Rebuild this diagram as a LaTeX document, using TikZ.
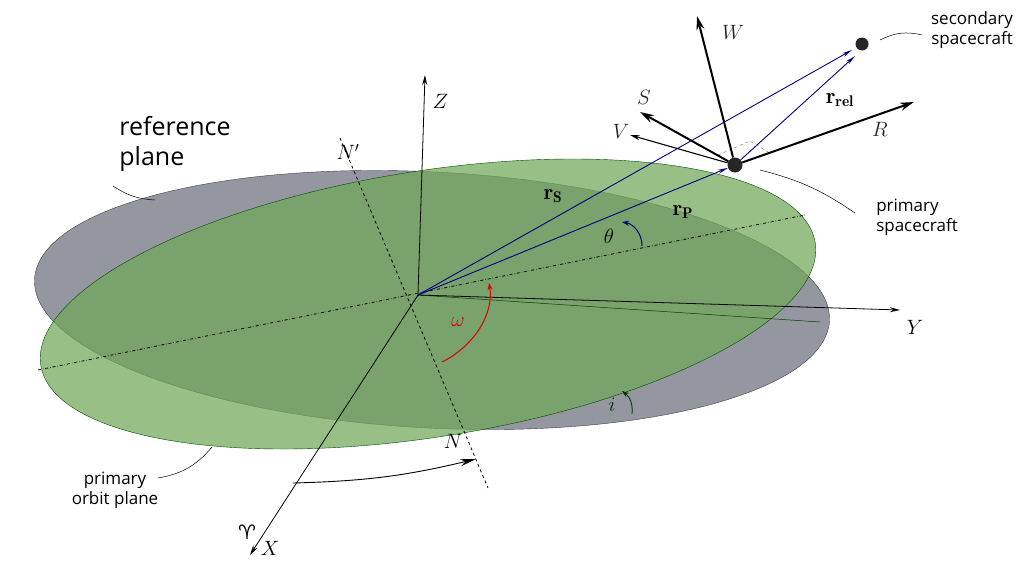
\documentclass[tikz,border=0pt]{standalone}
\usepackage{fontspec}
\setsansfont{Open Sans}
\newfontfamily\djv{DejaVu Sans}
\usetikzlibrary{arrows.meta}
\definecolor{refgray}{RGB}{148,150,160}
\definecolor{orbgreen}{RGB}{112,168,88}
\begin{document}
\begin{tikzpicture}[x=1pt,y=-1pt,
  lab/.style={font=\sffamily\fontsize{17}{20}\selectfont,align=left},
  ax/.style={-{Stealth[length=10pt,width=5pt]},line width=0.8pt},
  big/.style={-{Stealth[length=14pt,width=8pt]},line width=2pt},
  vec/.style={-{Stealth[length=10pt,width=4pt]},line width=0.9pt,blue!50!black},
  ml/.style={font=\fontsize{22}{26}\selectfont}]
\useasboundingbox (0,0) rectangle (1024,568);
% planes
\fill[refgray] (432,300) ellipse[x radius=398pt,y radius=128pt,rotate=-3];
\draw[gray!50!black,line width=0.4pt] (432,300) ellipse[x radius=398pt,y radius=128pt,rotate=-3];
\fill[orbgreen,opacity=0.72] (428,304) ellipse[x radius=392pt,y radius=133pt,rotate=9];
\draw[green!30!black,line width=0.4pt] (428,304) ellipse[x radius=392pt,y radius=133pt,rotate=9];
% nodes
\coordinate (O) at (418,295);
\node[circle,fill=black!85,inner sep=0pt,minimum size=15pt] (P) at (735,165) {};
\node[circle,fill=black!85,inner sep=0pt,minimum size=13pt] (Sc) at (862,44) {};
% lines
\draw[dash dot,line width=0.8pt] (38,370) -- (805,215);
\draw[dashed,line width=0.8pt] (340,138) -- (488,488);
\draw[green!25!black,line width=0.5pt] (O) -- (820,322);
\draw[ax] (O) -- (425,75) node[pos=0.88,right=5pt,ml]{$Z$};
\draw[ax] (O) -- (900,310);
\node[ml] at (915,327) {$Y$};
\draw[ax] (O) -- (250,555);
\node[ml] at (270,548) {$X$};
\node[font=\djv\fontsize{20}{22}\selectfont] at (247,532) {♈};
\node[ml] at (348,152) {$N'$};
\node[ml] at (453,441) {$N$};
% Omega
\draw[-{Stealth[length=16pt,width=7pt]},line width=0.9pt] (293,483) to[bend left=-6] (476,459);
\node[ml] at (420,486) {$\mathit{\Omega}$};
% omega
\draw[red!85!black,line width=1pt,-{Stealth[length=7pt,width=5pt]}] (442,362) .. controls (476,345) and (494,312) .. (489,283);
\node[ml,red!85!black] at (458,322) {$\omega$};
% vectors
\draw[vec] (O) -- (P);
\draw[vec] (O) -- (852,50);
\draw[vec] (P) -- (855,56);
\node[ml] at (553,196) {$\mathbf{r}_{\mathbf{S}}$};
\node[ml] at (683,212) {$\mathbf{r}_{\mathbf{P}}$};
\node[ml] at (840,100) {$\mathbf{r}_{\mathrm{\bf rel}}$};
% theta
\draw[blue!50!black,line width=1pt,-{Stealth[length=7pt,width=5pt]}] (642,246) to[bend right=40] (622,222);
\node[ml] at (609,236) {$\theta$};
% i
\draw[green!20!black,line width=0.8pt,-{Stealth[length=7pt,width=5pt]}] (632,414) to[bend right=30] (622,391);
\node[ml,green!20!black] at (612,405) {$i$};
% frame
\draw[gray,dashed,line width=0.5pt] (718,155) -- (750,141) -- (768,152);
\draw[big] (P) -- (697,16);
\draw[big] (P) -- (640,112);
\draw[-{Stealth[length=10pt,width=5pt]},line width=1.1pt] (P) -- (630,135);
\draw[big] (P) -- (914,102);
\node[ml,gray!30!black] at (733,32) {$W$};
\node[ml,gray!30!black] at (644,97) {$S$};
\node[ml,gray!30!black] at (621,131) {$V$};
\node[ml,gray!30!black] at (880,129) {$R$};
% labels
\node[font=\sffamily\fontsize{25}{30}\selectfont,align=left] (rp) at (175,144) {reference\\plane};
\draw[line width=0.5pt] (155,200) to[bend left=15] (113,186);
\node[lab,align=center] (ss) at (972,30) {secondary\\spacecraft};
\draw[line width=0.5pt] (880,40) to[bend left=20] (922,35);
\node[lab] (ps) at (917,217) {primary\\spacecraft};
\draw[line width=0.5pt] (760,170) to[bend left=10] (855,213);
\node[lab,align=center] (op) at (115,490) {primary\\orbit plane};
\draw[line width=0.5pt] (212,447) to[bend left=20] (158,478);
\end{tikzpicture}
\end{document}
